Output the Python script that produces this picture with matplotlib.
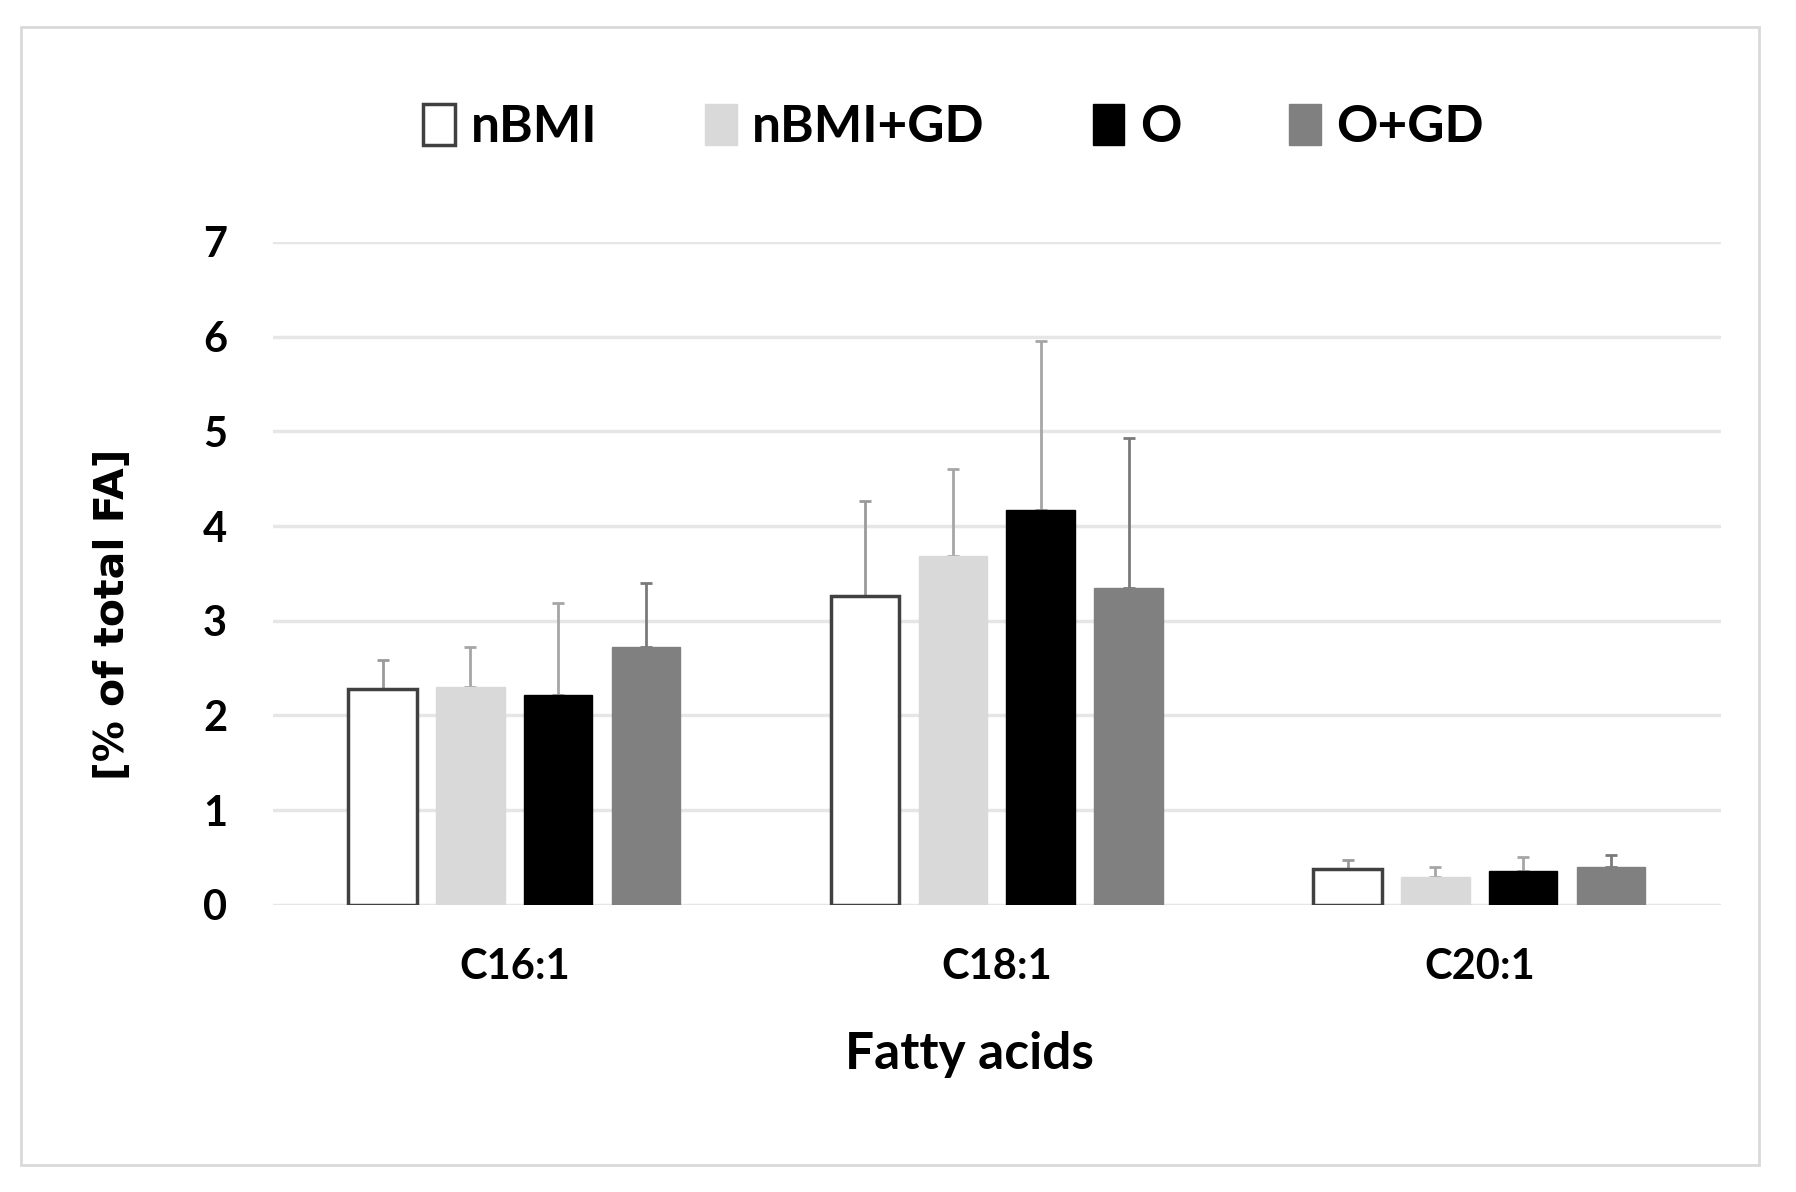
import numpy as np
import matplotlib
matplotlib.use("Agg")
import matplotlib.pyplot as plt
from matplotlib.patches import Rectangle

plt.rcParams['font.family'] = ['Lato', 'DejaVu Sans']

# data
categories = ['C16:1', 'C18:1', 'C20:1']
groups = ['nBMI', 'nBMI+GD', 'O', 'O+GD']
nbmi = [2.28, 3.26, 0.38]
nbmi_gd = [2.30, 3.68, 0.29]
obese = [2.22, 4.17, 0.36]
obese_gd = [2.72, 3.35, 0.40]
nbmi_sd = [0.30, 1.00, 0.09]
nbmi_gd_sd = [0.42, 0.92, 0.11]
obese_sd = [0.97, 1.78, 0.14]
obese_gd_sd = [0.68, 1.58, 0.13]

values = [nbmi, nbmi_gd, obese, obese_gd]
errors = [nbmi_sd, nbmi_gd_sd, obese_sd, obese_gd_sd]
faces = ['white', '#d9d9d9', '#000000', '#808080']
edges = ['#404040', '#d9d9d9', '#000000', '#808080']
ecolors = ['#9a9a9a', '#a6a6a6', '#a6a6a6', '#7a7a7a']

fig = plt.figure(figsize=(17.96, 11.92), dpi=100)
ax = fig.add_axes([0.152, 0.241, 0.806, 0.556])

# frame around whole chart
fig.patches.append(Rectangle((0.0115, 0.023), 0.968, 0.954, transform=fig.transFigure,
                             fill=False, edgecolor='#d9d9d9', linewidth=2))

x = np.arange(len(categories))
width = 0.142
step = 0.182
for i in range(len(groups)):
    pos = x + (i - 1.5) * step
    ax.bar(pos, values[i], width, color=faces[i], edgecolor=edges[i],
           linewidth=2.5 if i == 0 else 1, label=groups[i], zorder=3)
    ax.errorbar(pos, values[i], yerr=[np.zeros(3), errors[i]], fmt='none',
                ecolor=ecolors[i], elinewidth=2, capsize=4, capthick=2, zorder=2)

ax.set_xlim(-0.5, 2.5)
ax.set_ylim(0, 7)
ax.set_yticks(range(8))
ax.set_xticks(x)
ax.set_xticklabels(categories)
ax.yaxis.grid(True, color='#e6e6e6', linewidth=2.5, zorder=0)
ax.set_axisbelow(True)
for s in ax.spines.values():
    s.set_visible(False)
ax.tick_params(length=0)
ax.tick_params(axis='y', labelsize=30, pad=33)
ax.tick_params(axis='x', labelsize=30, pad=31)
for t in ax.get_xticklabels() + ax.get_yticklabels():
    t.set_fontweight('bold')

ax.set_xlabel('Fatty acids', fontsize=37, fontweight='bold')
ax.xaxis.set_label_coords(0.481, -0.19)
ax.set_ylabel('[% of total FA]', fontsize=29.5, fontweight='bold',
              family='DejaVu Sans')
ax.yaxis.set_label_coords(-0.097, 0.4375)

fig.legend(loc='center', bbox_to_anchor=(0.531, 0.893), ncol=4, frameon=False,
           prop={'weight': 'bold', 'size': 37}, handlelength=0.62,
           handleheight=0.85, handletextpad=0.3, columnspacing=2.1)

fig.savefig('out.png', dpi=100, facecolor='white')
